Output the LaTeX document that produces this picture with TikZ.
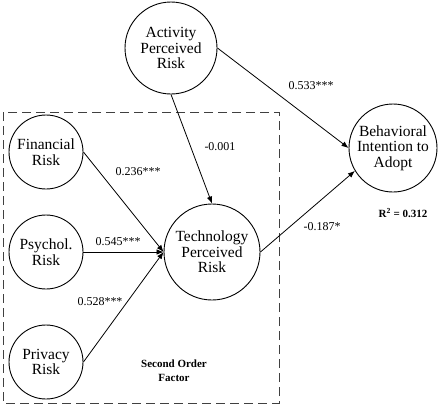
\documentclass[tikz,border=0pt]{standalone}
\usepackage{fontspec}
\setmainfont{Liberation Serif}
\usetikzlibrary{arrows.meta}

\begin{document}
\begin{tikzpicture}[x=1pt,y=-1pt,
  construct/.style={draw,circle,line width=0.9pt,inner sep=0pt,align=center,font=\fontsize{15.5}{15.5}\selectfont},
  path/.style={-{Latex[length=7pt,width=5.5pt]},line width=0.8pt},
  coef/.style={font=\fontsize{12}{14}\selectfont},
  note/.style={font=\bfseries\fontsize{11}{14}\selectfont,align=center}]
  \useasboundingbox (0,0) rectangle (445,405);
  % second order factor box
  \coordinate (boxnw) at (3,112);
  \coordinate (boxse) at (279,403);
  \draw[dash pattern=on 9pt off 5pt,line width=0.9pt,black!75] (boxnw) rectangle (boxse);
  % constructs
  \node[construct,minimum size=92pt] (act) at (171,48) {Activity\\Perceived\\Risk};
  \node[construct,minimum size=96pt] (tech) at (212,252) {Technology\\Perceived\\Risk};
  \node[construct,minimum size=88pt] (bi) at (393,148) {Behavioral\\Intention to\\Adopt};
  \node[construct,minimum size=74pt] (fin) at (46,152) {Financial\\Risk};
  \node[construct,minimum size=74pt] (psy) at (46,252) {Psychol.\\Risk};
  \node[construct,minimum size=74pt] (pri) at (46,362) {Privacy\\Risk};
  % paths
  \foreach \src in {fin,psy,pri} \draw[path] (\src.east) -- (tech.west);
  \draw[path] (act.south) -- (tech.north);
  \draw[path] (act.east) -- (bi.west);
  \draw[path] (tech.east) -- (bi.211);
  % coefficients
  \node[coef] (cfin) at (138,172) {0.236***};
  \node[coef] (cpsy) at (118,242) {0.545***};
  \node[coef] (cpri) at (100,302) {0.528***};
  \node[coef] (cact) at (220,147) {-0.001};
  \node[coef] (cbi) at (311,86) {0.533***};
  \node[coef] (ctech) at (322,227) {-0.187*};
  \node[note] (rsq) at (403,213) {R\textsuperscript{2} = 0.312};
  \node[note] (sof) at (174,371) {Second Order\\Factor};
\end{tikzpicture}
\end{document}
